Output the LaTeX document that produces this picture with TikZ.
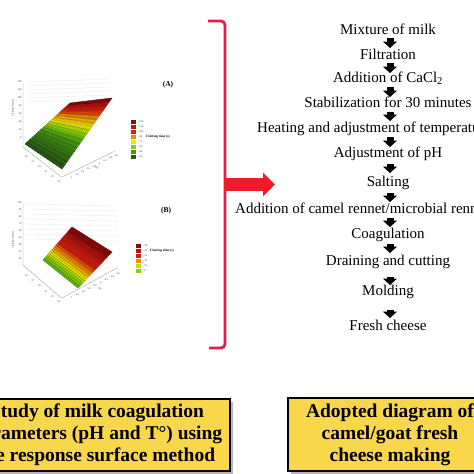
\documentclass[tikz,border=0pt]{standalone}
\usepackage{fontspec}
\setmainfont{Liberation Serif}
\usetikzlibrary{calc,arrows.meta,shadows}
\definecolor{dkgreen}{RGB}{40,90,20}
\definecolor{mgreen}{RGB}{70,150,20}
\definecolor{lgreen}{RGB}{130,210,10}
\definecolor{syellow}{RGB}{240,230,0}
\definecolor{sorange}{RGB}{240,140,0}
\definecolor{sred}{RGB}{215,30,15}
\definecolor{sdkred}{RGB}{140,10,10}
\definecolor{brk}{RGB}{226,30,78}
\definecolor{bigred}{RGB}{237,28,40}
\definecolor{boxyellow}{RGB}{249,215,74}
\newcommand{\surfplot}[5]{%
  \foreach \c [count=\i] in {#5} {\xdef\nbands{\i}}%
  \foreach \c [count=\i] in {#5} {%
    \pgfmathsetmacro\ta{(\i-1)/\nbands}\pgfmathsetmacro\tb{\i/\nbands}%
    \filldraw[fill=\c,draw=\c,line width=0.3pt] ($(#1)!\ta!(#2)$) -- ($(#1)!\tb!(#2)$) -- ($(#4)!\tb!(#3)$) -- ($(#4)!\ta!(#3)$) -- cycle;
  }%
  \foreach \s in {0,0.05,...,1.01} {%
    \draw[black,opacity=0.35,line width=0.25pt] ($(#1)!\s!(#4)$) -- ($(#2)!\s!(#3)$);
    \draw[black,opacity=0.35,line width=0.25pt] ($(#1)!\s!(#2)$) -- ($(#4)!\s!(#3)$);
  }%
}
\begin{document}
\begin{tikzpicture}[x=1pt,y=-1pt,
  stepnode/.style={font=\fontsize{15}{17}\selectfont, inner sep=0pt, text height=10pt, text depth=3pt},
  blk/.style={line width=7pt, -{Triangle[width=14pt,length=6.5pt]}},
  bigbox/.style={draw=black, line width=1.3pt, fill=boxyellow, inner sep=0pt,
     drop shadow={shadow xshift=2.5pt, shadow yshift=-2.5pt, fill=gray!70, opacity=0.8}},
  boxtext/.style={font=\fontsize{19.5}{22}\selectfont\bfseries, align=center, inner sep=0pt},
  axisline/.style={gray!70, line width=0.4pt},
  tick/.style={font=\fontsize{2.6}{3}\selectfont, inner sep=0.3pt, gray!40!black},
  legtxt/.style={font=\fontsize{3.4}{4}\selectfont\bfseries, inner sep=0pt, anchor=west},
  plab/.style={font=\fontsize{7.5}{8}\selectfont\bfseries, inner sep=0pt}]
\useasboundingbox (0,0) rectangle (474,474);
\clip (0,0) rectangle (474,474);
\fill[white] (0,0) rectangle (474,474);

% ---------- plot A ----------
\foreach \yy in {82,86,...,104} \draw[gray!12, line width=0.6pt] (27,\yy) -- (110,\yy-3);
\draw[axisline] (23,82) -- (23,147) -- (60,176) -- (62,177) -- (115,151);
\foreach \v [count=\k] in {140,120,100,80,60,40,20,0} {
  \node[tick, anchor=east] (at\k) at (22,82+\k*8-8) {\v};
}
\foreach \v [count=\k] in {25,27,29,31,33,35} {
  \node[tick] (al\k) at (20+\k*6.5,152+\k*5) {\v};
}
\foreach \v [count=\k] in {5,5.2,5.4,5.6,5.8,6,6.2,6.4,6.6} {
  \node[tick] (ar\k) at (66+\k*5.6,180-\k*2.75) {\v};
}
\node[tick, rotate=90] (ay) at (13,108) {Clotting time (s)};
\node[tick, rotate=-25] (ax) at (97,168) {pH};
\coordinate (A1) at (25,144);
\coordinate (A2) at (70,103);
\coordinate (A3) at (112,98);
\coordinate (A4) at (62,169);
\surfplot{A1}{A2}{A3}{A4}{dkgreen,dkgreen!80!mgreen,dkgreen!60!mgreen,dkgreen!40!mgreen,dkgreen!20!mgreen,mgreen,mgreen!60!lgreen,lgreen,lgreen!50!syellow,syellow,syellow!50!sorange,sorange,sorange!40!sred,sred,sred!60!sdkred,sdkred}
\node[plab] (labA) at (168,85) {(A)};
\foreach \c/\v [count=\k] in {sdkred/136,sred!70!sdkred/120,sred/104,sorange/88,syellow/72,lgreen/56,mgreen/40,dkgreen/24} {
  \fill[\c] (131,115+\k*5) rectangle (136,119+\k*5);
  \node[tick, anchor=west] (lv\k) at (137,117+\k*5) {-- \v};
}
\node[legtxt] (legA) at (146,137) {Clotting time (s)};

% ---------- plot B ----------
\foreach \yy in {204,209,...,240} \draw[gray!12, line width=0.6pt] (27,\yy) -- (118,\yy+2);
\draw[axisline] (23,203) -- (23,265) -- (60,297) -- (62,298) -- (117,268);
\foreach \v [count=\k] in {100,90,80,70,60,50,40,30,20} {
  \node[tick, anchor=east] (bt\k) at (22,203+\k*7-7) {\v};
}
\foreach \v [count=\k] in {25,27,29,31,33,35} {
  \node[tick] (bl\k) at (20+\k*6.5,270+\k*5.3) {\v};
}
\foreach \v [count=\k] in {5,5.2,5.4,5.6,5.8,6,6.2,6.4,6.6} {
  \node[tick] (br\k) at (66+\k*5.8,301-\k*3) {\v};
}
\node[tick, rotate=90] (by) at (13,240) {Clotting time (s)};
\node[tick, rotate=-25] (bx) at (100,289) {pH};
\coordinate (B1) at (43,260);
\coordinate (B2) at (72,227);
\coordinate (B3) at (112,252);
\coordinate (B4) at (78,288);
\surfplot{B1}{B2}{B3}{B4}{lgreen!60!mgreen,lgreen,lgreen!50!syellow,syellow,syellow!50!sorange,sorange,sorange!50!sred,sred,sred,sred!80!sdkred,sred!60!sdkred,sred!40!sdkred,sdkred,sdkred}
\node[plab] (labB) at (166,211) {(B)};
\foreach \c/\v [count=\k] in {sdkred/48,sred!60!sdkred/40,sred/32,sorange/24,syellow!60!lgreen/16,lgreen/8} {
  \fill[\c] (136,239+\k*5) rectangle (141,243+\k*5);
  \node[tick, anchor=west] (lb\k) at (142,241+\k*5) {-- \v};
}
\node[legtxt] (legB) at (150,251) {Clotting time (s)};

% ---------- bracket and arrow ----------
\draw[brk, line width=2.8pt, rounded corners=4pt] (208,21) -- (225,21) -- (225,348) -- (209,348);
\coordinate (brkmid) at (224,184.5);
\coordinate (flowin) at (275,184.5);
\draw[bigred, line width=13pt, -{Triangle[width=23pt,length=12pt]}] (brkmid) -- (flowin);

% ---------- flowchart ----------
\node[stepnode] (s1) at (388,31) {Mixture of milk};
\node[stepnode] (s2) at (388,56) {Filtration};
\node[stepnode] (s3) at (388,79) {Addition of CaCl\textsubscript{2}};
\node[stepnode] (s4) at (388,104) {Stabilization for 30 minutes};
\node[stepnode, anchor=west] (s5) at (257,129) {Heating and adjustment of temperature};
\node[stepnode] (s6) at (388,154) {Adjustment of pH};
\node[stepnode] (s7) at (388,183) {Salting};
\node[stepnode, anchor=west] (s8) at (235,210) {Addition of camel rennet/microbial rennet};
\node[stepnode] (s9) at (388,235) {Coagulation};
\node[stepnode] (s10) at (388,262) {Draining and cutting};
\node[stepnode] (s11) at (388,292) {Molding};
\node[stepnode] (s12) at (388,327) {Fresh cheese};
\draw[blk] ($(s1)+(2,7)$) -- ($(s2)+(2,-8)$);
\draw[blk] ($(s2)+(2,7)$) -- ($(s3)+(2,-6)$);
\draw[blk] ($(s3)+(2,8)$) -- ($(s4)+(2,-7)$);
\draw[blk] ($(s4)+(2,8)$) -- ($(s4 |- s5)+(2,-8)$);
\draw[blk] ($(s4 |- s5)+(2,8)$) -- ($(s6)+(2,-7)$);
\draw[blk] ($(s6)+(2,10)$) -- ($(s7)+(2,-10)$);
\draw[blk] ($(s7)+(2,10)$) -- ($(s7 |- s8)+(2,-8)$);
\draw[blk] ($(s7 |- s8)+(2,8)$) -- ($(s9)+(2,-8)$);
\draw[blk] ($(s9)+(2,9)$) -- ($(s10)+(2,-9)$);
\draw[blk] ($(s10)+(2,15)$) -- ($(s11)+(2,-7)$);
\draw[blk] ($(s11)+(2,18)$) -- ($(s12)+(2,-9)$);

% ---------- bottom boxes ----------
\node[bigbox, minimum width=266pt, minimum height=72pt] (lbox) at (97,435) {};
\node[boxtext] (ltext) at (97,435) {Study of milk coagulation\\parameters (pH and T\textdegree) using\\the response surface method};
\node[bigbox, minimum width=204pt, minimum height=73pt] (rbox) at (390,434.5) {};
\node[boxtext] (rtext) at (390,435) {Adopted diagram of\\camel/goat fresh\\cheese making};
\end{tikzpicture}
\end{document}
